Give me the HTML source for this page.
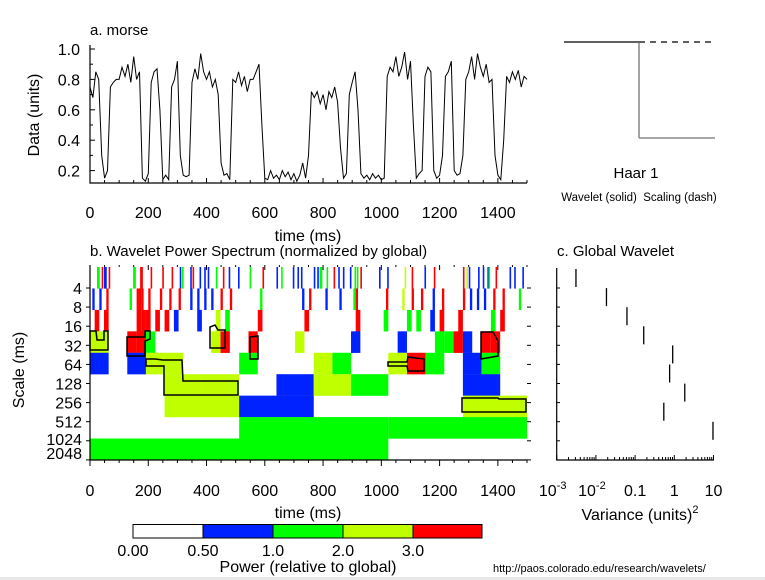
<!DOCTYPE html>
<html><head><meta charset="utf-8"><style>
html,body{margin:0;padding:0;background:#fff;}
svg{display:block;font-family:"Liberation Sans",Arial,sans-serif;}
</style></head><body>
<svg id="c" width="765" height="580" viewBox="0 0 765 580" xmlns="http://www.w3.org/2000/svg">
<rect x="0" y="0" width="765" height="580" fill="#fff"/>
<rect x="0" y="577" width="765" height="3" fill="#e8e8e8"/>
<g id="gTop"></g>
<g id="gPow"></g>
<g id="gGlob"></g>
<g id="gBar"></g>
<g>
<line x1="564" y1="42" x2="639" y2="42" stroke="#000" stroke-width="1.2"/>
<line x1="639" y1="42" x2="715" y2="42" stroke="#000" stroke-width="1.2" stroke-dasharray="6,5"/>
<line x1="639" y1="42" x2="639" y2="138" stroke="#666" stroke-width="1.2"/>
<line x1="639" y1="138" x2="715" y2="138" stroke="#888" stroke-width="1.5"/>
<text x="636" y="178" font-size="15" text-anchor="middle">Haar 1</text>
<text x="639" y="201" font-size="11.5" text-anchor="middle">Wavelet (solid)&#160; Scaling (dash)</text>
</g>
<text x="493" y="572" font-size="11">http://paos.colorado.edu/research/wavelets/</text>
</svg>
<script>
// ---------- data ----------
const timeMs = [];
for (let t = 0; t <= 1500; t += 10) timeMs.push(t);
const morseValues = [0.75,0.68,0.85,0.8,0.3,0.15,0.2,0.75,0.78,0.8,0.8,0.88,0.82,0.9,0.78,0.95,0.8,0.85,0.15,0.13,0.18,0.78,0.85,0.87,0.6,0.14,0.17,0.14,0.75,0.8,0.92,0.3,0.17,0.16,0.17,0.78,0.87,0.8,0.97,0.85,0.8,0.85,0.75,0.8,0.7,0.25,0.17,0.18,0.14,0.8,0.78,0.85,0.76,0.82,0.72,0.8,0.8,0.85,0.9,0.5,0.15,0.14,0.2,0.15,0.17,0.14,0.2,0.16,0.19,0.14,0.18,0.13,0.17,0.25,0.15,0.3,0.72,0.68,0.72,0.64,0.7,0.6,0.72,0.68,0.75,0.65,0.35,0.15,0.18,0.7,0.78,0.85,0.6,0.18,0.15,0.17,0.14,0.18,0.15,0.17,0.14,0.15,0.82,0.88,0.85,0.95,0.82,0.88,0.98,0.8,0.92,0.5,0.15,0.18,0.2,0.82,0.88,0.85,0.2,0.15,0.17,0.3,0.82,0.85,0.92,0.2,0.17,0.18,0.3,0.8,0.85,0.95,0.8,0.97,0.88,0.82,0.9,0.78,0.8,0.3,0.17,0.14,0.4,0.82,0.78,0.85,0.8,0.86,0.75,0.82,0.8];
const xTicks = [0,200,400,600,800,1000,1200,1400];
const yTicksTop = [0.2,0.4,0.6,0.8,1.0];
const scaleLabels = ["4","8","16","32","64","128","256","512","1024","2048"];
const blockWidths = [4,8,16,32,64,128,256,512,1024];
// [blockIndex, level] ; level 1=blue 2=green 3=yellow 4=red
const cells4 = [[6,2],[7,2],[10,4],[12,1],[13,1],[16,4],[37,2],[38,2],[43,4],[44,4],[52,4],[62,4],[70,4],[77,1],[79,2],[86,1],[88,4],[94,1],[98,1],[101,1],[108,2],[114,4],[119,1],[127,1],[137,2],[148,4],[160,1],[164,2],[174,1],[178,1],[181,1],[192,1],[195,1],[197,2],[198,2],[203,2],[209,4],[213,1],[217,1],[223,1],[227,2],[229,2],[232,4],[248,1],[255,1],[270,3],[276,4],[287,1],[295,4],[320,4],[323,3],[325,1],[333,1],[337,1],[341,1],[342,2],[348,4],[360,1],[364,1],[371,1]];
const cells8 = [[1,1],[4,1],[7,4],[17,2],[20,4],[21,4],[22,4],[25,4],[30,4],[34,4],[38,4],[43,1],[46,1],[49,1],[52,1],[56,4],[60,4],[73,2],[91,1],[94,4],[101,1],[107,1],[113,2],[114,4],[127,4],[134,3],[138,4],[142,4],[147,1],[151,4],[160,4],[163,1],[166,1],[169,1],[173,4],[177,4],[184,2]];
const cells16 = [[1,4],[3,4],[10,4],[11,4],[12,4],[14,4],[16,4],[18,1],[23,1],[27,3],[29,2],[36,4],[46,4],[57,4],[63,2],[68,2],[70,2],[73,1],[75,4],[79,4],[86,2],[88,4]];
const cells32 = [[0,3],[1,3],[4,4],[5,4],[6,2],[13,3],[14,4],[17,4],[22,3],[28,1],[33,1],[37,2],[38,2],[39,4],[40,1],[42,4],[43,4]];
const cells64 = [[0,1],[2,1],[3,3],[4,3],[8,2],[12,3],[13,2],[16,3],[17,4],[18,2],[20,1],[21,2]];
const cells128 = [[2,3],[3,3],[5,1],[6,3],[7,2],[10,1]];
const cells256 = [[1,3],[2,1],[5,3]];
const cells512 = [[1,2],[2,2]];
const cells1024 = [[0,2]];
const globalPower = [0.0031,0.0186,0.062,0.166,0.91,0.76,1.85,0.54,9.7];
const colorLevels = ["#ffffff","#0022ff","#00ff00","#c0ff00","#ff0000"];
const colorbarLabels = ["0.00","0.50","1.0","2.0","3.0"];
const varLabels = ["10","10","0.1","1","10"];

// ---------- helpers ----------
const NS = "http://www.w3.org/2000/svg";
function mk(parent, tag, attrs, txt) {
  const e = document.createElementNS(NS, tag);
  for (const k in attrs) e.setAttribute(k, attrs[k]);
  if (txt !== undefined) e.textContent = txt;
  parent.appendChild(e);
  return e;
}
const X0 = 90, X1 = 527;
const xScale = ms => X0 + ms * (X1 - X0) / 1500;

// ---------- top panel ----------
const gTop = document.getElementById('gTop');
const yTop = v => 49 + (1.0 - v) * (30.4 / 0.2);
let t1 = mk(gTop, 'text', {x: 90, y: 35, 'font-size': 15}, 'a. morse');


let ax = mk(gTop, 'path', {d: `M90,45 V183 H527`, fill: 'none', stroke: '#000', 'stroke-width': 1.2});


for (let v = 0.2; v <= 1.001; v += 0.1) {
  const major = Math.abs(Math.round(v * 10) % 2) === 0;
  mk(gTop, 'line', {x1: 90, x2: major ? 95 : 93, y1: yTop(v), y2: yTop(v), stroke: '#000'});
}
yTicksTop.forEach(v => {
  const l = mk(gTop, 'text', {x: 80, y: yTop(v) + 6, 'font-size': 16, 'text-anchor': 'end'}, v.toFixed(1));
  
  
});
for (let ms = 0; ms <= 1500; ms += 50) {
  const major = ms % 200 === 0;
  mk(gTop, 'line', {x1: xScale(ms), x2: xScale(ms), y1: 183, y2: major ? 178 : 180, stroke: '#000'});
}
xTicks.forEach(ms => {
  const l = mk(gTop, 'text', {x: xScale(ms), y: 218, 'font-size': 16, 'text-anchor': 'middle'}, String(ms));
  
  
});
let yt = mk(gTop, 'text', {x: 0, y: 0, 'font-size': 16, 'text-anchor': 'middle', transform: 'translate(39,115) rotate(-90)'}, 'Data (units)');


let xt = mk(gTop, 'text', {x: 308, y: 241, 'font-size': 16, 'text-anchor': 'middle'}, 'time (ms)');


let pts = morseValues.map((v, i) => `${xScale(timeMs[i]).toFixed(1)},${yTop(v).toFixed(1)}`).join(' ');
let line = mk(gTop, 'polyline', {points: pts, fill: 'none', stroke: '#000', 'stroke-width': 1});



// ---------- power panel ----------
const gPow = document.getElementById('gPow');
const rowTop = r => 267 + r * 21.44;
const allCells = [cells4, cells8, cells16, cells32, cells64, cells128, cells256, cells512, cells1024];
allCells.forEach((cells, r) => {
  const w = blockWidths[r];
  cells.forEach(([idx, lvl]) => {
    const s = idx * w, e = Math.min(1500, (idx + 1) * w);
    if (s >= 1500) return;
    const x = xScale(s);
    const wpx = Math.max(1.6, xScale(e) - x);
    const rc = mk(gPow, 'rect', {x: x, y: rowTop(r), width: wpx, height: 21.6, fill: colorLevels[lvl]});
    
    
  });
});
// significance contours (decorative outlines)
const contours = [
  "146,359 146,366 164,366 164,395 238,395 238,381 183,381 182,360 163,360 155,359",
  "462,398 462,412 526,412 526,399 499,399 498,398",
  "388,362 388,366 407,366 408,371 424,371 424,359 408,357 407,362",
  "127,337 127,356 145,356 145,341 150,339 150,331 145,331 145,337",
  "481,337 481,359 498,356 498,341 493,332 481,332",
  "90,331 90,350 108,350 108,331 104,331 104,340 97,340 96,331",
  "210,327 210,348 225,348 225,330 218,330 215,325",
  "250,337 250,359 258,359 258,343 258,336"
];
contours.forEach(p => {
  const pl = mk(gPow, 'polygon', {points: p, fill: 'none', stroke: '#000', 'stroke-width': 1.5});
  
  
});
let pax = mk(gPow, 'path', {d: 'M90,265 V460 H527', fill: 'none', stroke: '#000', 'stroke-width': 1.2});


for (let ms = 0; ms <= 1500; ms += 50) {
  const major = ms % 200 === 0;
  mk(gPow, 'line', {x1: xScale(ms), x2: xScale(ms), y1: 460, y2: major ? 466 : 463, stroke: '#000'});
  mk(gPow, 'line', {x1: xScale(ms), x2: xScale(ms), y1: 265, y2: major ? 270 : 267, stroke: '#000'});
}
scaleLabels.forEach((s, i) => {
  const y = 288 + i * 19.1;
  mk(gPow, 'line', {x1: 86, x2: 90, y1: y, y2: y, stroke: '#000'});
  mk(gPow, 'line', {x1: 527, x2: 531, y1: y, y2: y, stroke: '#000'});
  let yy = y + 6;
  if (s === "1024") yy = y + 4;
  if (s === "2048") yy = y - 1;
  const l = mk(gPow, 'text', {x: 82, y: yy, 'font-size': 16, 'text-anchor': 'end'}, s);
  
  
});
xTicks.forEach(ms => {
  const l = mk(gPow, 'text', {x: xScale(ms), y: 496, 'font-size': 16, 'text-anchor': 'middle'}, String(ms));
  
  
});
let pt = mk(gPow, 'text', {x: 90, y: 256, 'font-size': 15}, 'b. Wavelet Power Spectrum (normalized by global)');


let pyt = mk(gPow, 'text', {x: 0, y: 0, 'font-size': 16, 'text-anchor': 'middle', transform: 'translate(24,370) rotate(-90)'}, 'Scale (ms)');


let pxt = mk(gPow, 'text', {x: 308, y: 518, 'font-size': 16, 'text-anchor': 'middle'}, 'time (ms)');



// ---------- global wavelet ----------
const gGlob = document.getElementById('gGlob');
const GX0 = 556.7, DEC = 39.2;
const xLog = v => GX0 + (Math.log10(v) + 3) * DEC;
let gt = mk(gGlob, 'text', {x: 557, y: 256, 'font-size': 15}, 'c. Global Wavelet');


let gax = mk(gGlob, 'path', {d: 'M556.7,268 V460 H714', fill: 'none', stroke: '#000', 'stroke-width': 1.2});


for (let i = 0; i < 9; i++) {
  const y = 288 + i * 19.1;
  mk(gGlob, 'line', {x1: 556.7, x2: 560, y1: y, y2: y, stroke: '#000'});
}
for (let d = -3; d <= 1; d++) {
  for (let m = 1; m <= 9; m++) {
    if (d === 1 && m > 1) break;
    const x = xLog(m * Math.pow(10, d));
    mk(gGlob, 'line', {x1: x, x2: x, y1: 460, y2: m === 1 ? 455 : 457, stroke: '#000'});
  }
}
globalPower.forEach((v, i) => {
  const x = xLog(v);
  const y0 = 268 + i * 19.1;
  const l = mk(gGlob, 'line', {x1: x, x2: x, y1: y0 + 1, y2: y0 + 19, stroke: '#000', 'stroke-width': 1.3});
  
  
});
const varPos = [0, 1, 2, 3, 4];
varPos.forEach(i => {
  const x = GX0 + i * DEC;
  const t = mk(gGlob, 'text', {x: x, y: 496, 'font-size': 16, 'text-anchor': 'middle'}, varLabels[i]);
  
  
  if (i < 2) {
    t.setAttribute('x', x - 4);
    mk(t, 'tspan', {dy: -7, 'font-size': 11}, i === 0 ? '-3' : '-2');
  }
});
let vt = mk(gGlob, 'text', {x: 640, y: 520, 'font-size': 16, 'text-anchor': 'middle'}, 'Variance (units)');


mk(vt, 'tspan', {dy: -7, 'font-size': 11}, '2');

// ---------- colorbar ----------
const gBar = document.getElementById('gBar');
const cbEdges = [133, 203, 273, 343, 413, 482];
for (let i = 0; i < 5; i++) {
  const r = mk(gBar, 'rect', {x: cbEdges[i], y: 524.5, width: cbEdges[i + 1] - cbEdges[i], height: 13.5, fill: colorLevels[i], stroke: '#000', 'stroke-width': 1});
  
  
  const t = mk(gBar, 'text', {x: cbEdges[i], y: 556, 'font-size': 16, 'text-anchor': 'middle'}, colorbarLabels[i]);
  
  
}
let ct = mk(gBar, 'text', {x: 308, y: 572, 'font-size': 16, 'text-anchor': 'middle'}, 'Power (relative to global)');


</script>
</body></html>
